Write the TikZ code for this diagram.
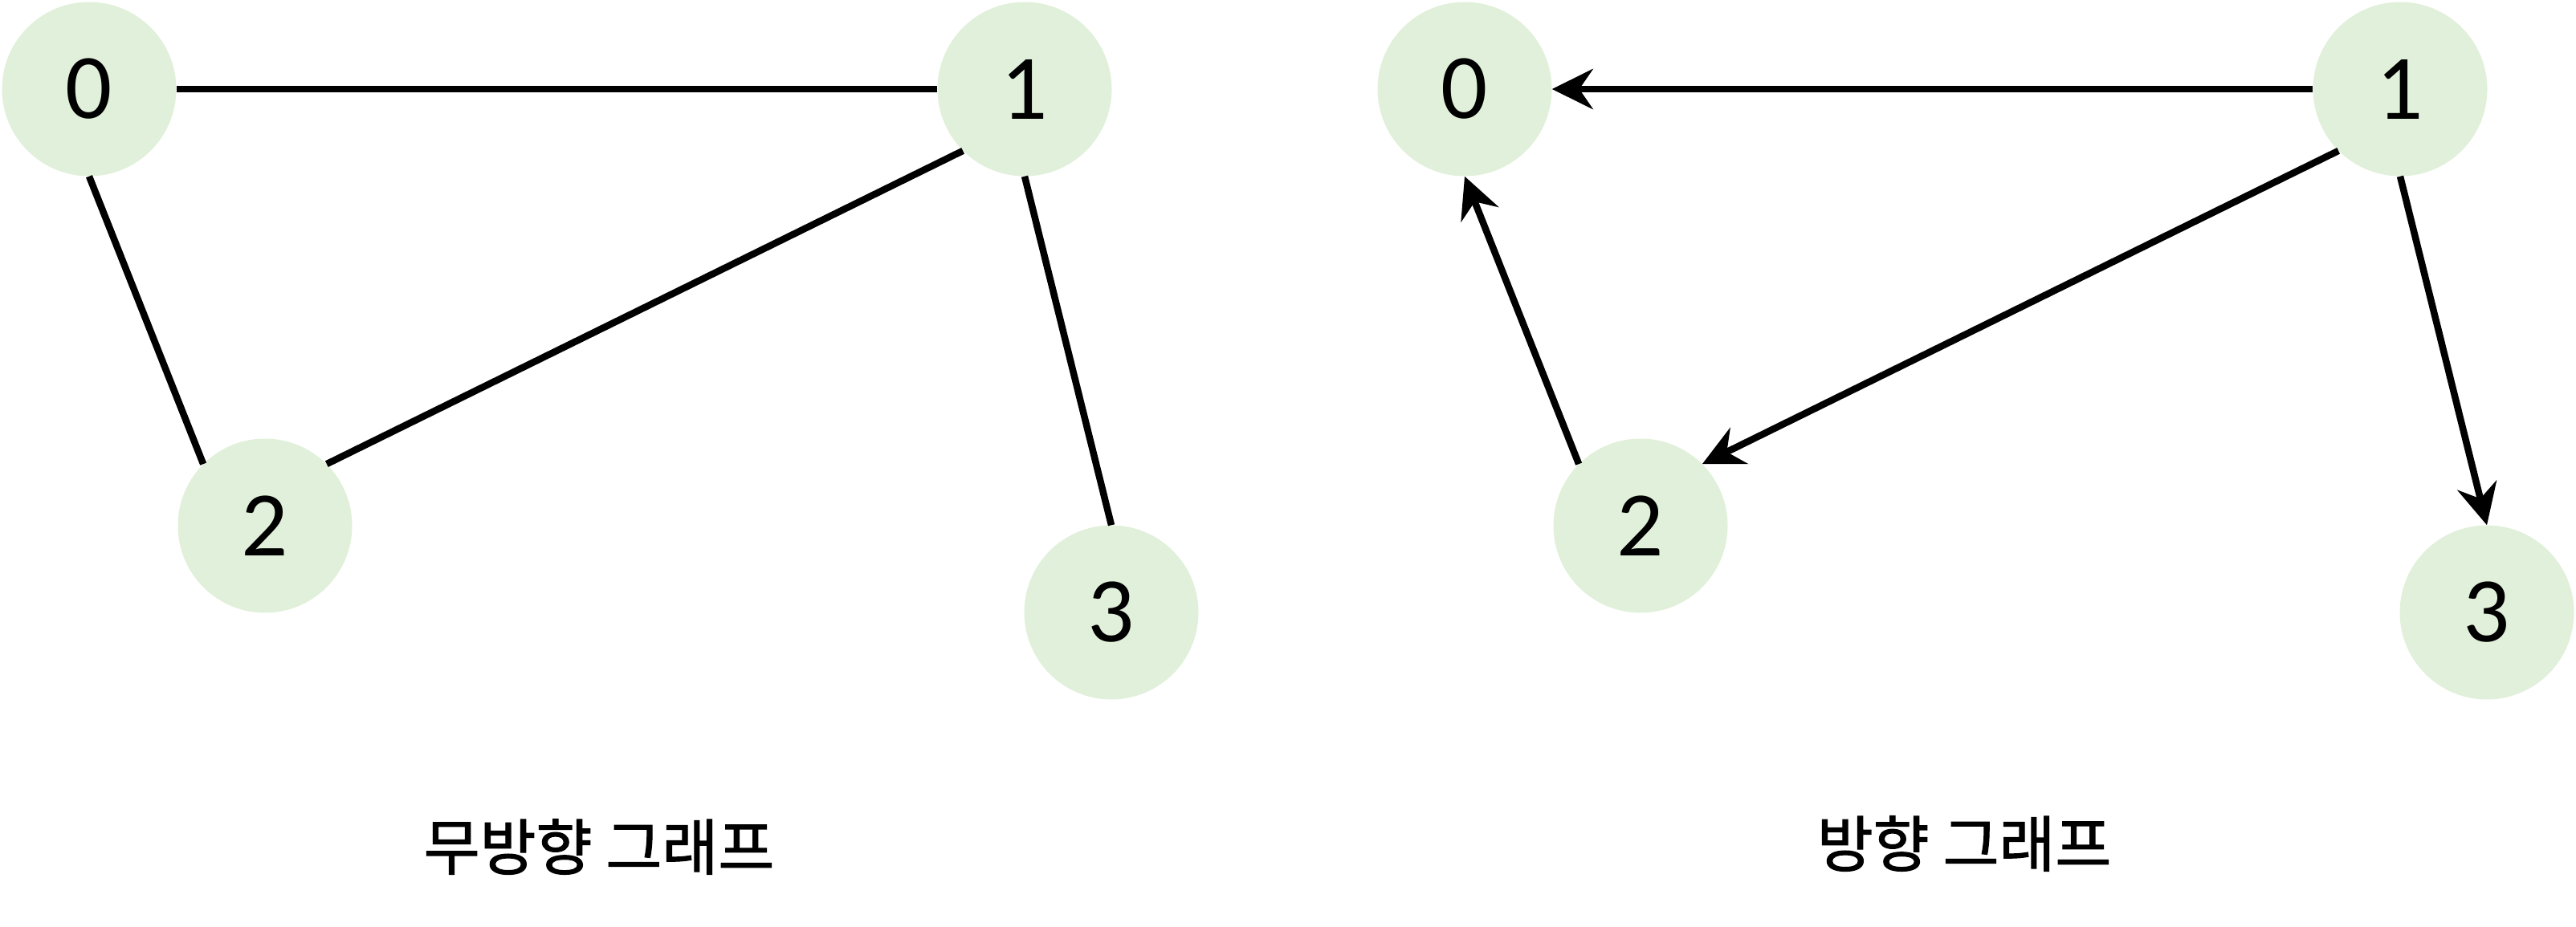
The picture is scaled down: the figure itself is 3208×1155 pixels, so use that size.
\documentclass[tikz,border=0pt]{standalone}
\usepackage{fontspec}
\setmainfont{Carlito}
\newfontfamily\krfont[FakeBold=1.5]{Noto Sans CJK KR}
\usetikzlibrary{arrows.meta}
\definecolor{vfill}{RGB}{225,240,218}
\begin{document}
\begin{tikzpicture}[x=1pt,y=-1pt,
  vert/.style={circle, fill=vfill, minimum size=217pt, inner sep=0pt, font=\fontsize{115}{115}\selectfont},
  edge/.style={line width=8.5pt},
  arr/.style={edge, -{Stealth[length=51pt,width=50pt,inset=17pt]}},
  captext/.style={font=\krfont\fontsize{76}{76}\selectfont, inner sep=0pt}]
\useasboundingbox (0,0) rectangle (3208,1155);
% undirected
\node[vert] (a0) at (111,111) {0};
\node[vert] (a1) at (1276,111) {1};
\node[vert] (a2) at (330,655) {2};
\node[vert] (a3) at (1384,763) {3};
\draw[edge] (a0.0) -- (a1.180);
\draw[edge] (a0.270) -- (a2.135);
\draw[edge] (a1.225) -- (a2.45);
\draw[edge] (a1.270) -- (a3.90);
\node[captext] (la) at (746,1055) {무방향 그래프};
% directed
\node[vert] (b0) at (1824,111) {0};
\node[vert] (b1) at (2989,111) {1};
\node[vert] (b2) at (2043,655) {2};
\node[vert] (b3) at (3097,763) {3};
\draw[arr] (b1.180) -- (b0.0);
\draw[arr] (b2.135) -- (b0.270);
\draw[arr] (b1.225) -- (b2.45);
\draw[arr] (b1.270) -- (b3.90);
\node[captext] (lb) at (2446,1051) {방향 그래프};
\end{tikzpicture}
\end{document}
